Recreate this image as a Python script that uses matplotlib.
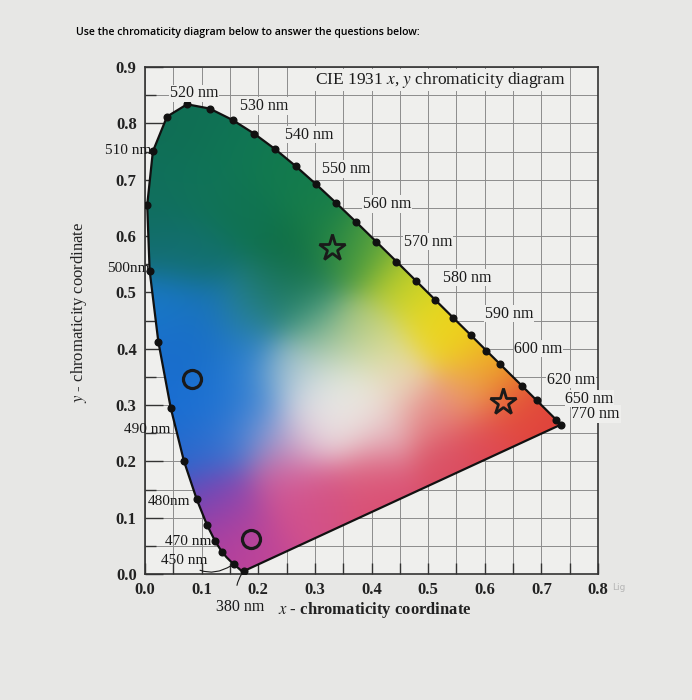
import numpy as np
import matplotlib.pyplot as plt
from matplotlib.patches import Polygon
from matplotlib.ticker import MultipleLocator

plt.rcParams['font.family'] = ['Liberation Serif', 'DejaVu Serif']
plt.rcParams['mathtext.fontset'] = 'stix'

# CIE 1931 spectral locus as drawn
locus_nm = [380, 400, 420, 430, 440, 450, 455, 460, 465, 470, 475, 480, 485, 490, 495,
            500, 505, 510, 515, 520, 525, 530, 535, 540, 545, 550, 555, 560, 565,
            570, 575, 580, 585, 590, 595, 600, 605, 610, 615, 620, 630, 640, 650, 770]
locus_x = [0.1741, 0.1733, 0.1714, 0.1689, 0.1644, 0.1566, 0.1510, 0.1440, 0.1355, 0.1241,
           0.1096, 0.0913, 0.0687, 0.0454, 0.0235, 0.0082, 0.0039, 0.0139, 0.0389, 0.0743,
           0.1142, 0.1547, 0.1929, 0.2296, 0.2658, 0.3016, 0.3373, 0.3731, 0.4087, 0.4441,
           0.4788, 0.5125, 0.5448, 0.5752, 0.6029, 0.6270, 0.6482, 0.6658, 0.6801, 0.6915,
           0.7079, 0.7190, 0.7260, 0.7347]
locus_y = [0.0050, 0.0048, 0.0051, 0.0069, 0.0109, 0.0177, 0.0227, 0.0297, 0.0399, 0.0578,
           0.0868, 0.1327, 0.2007, 0.2950, 0.4127, 0.5384, 0.6548, 0.7502, 0.8120, 0.8338,
           0.8262, 0.8059, 0.7816, 0.7543, 0.7243, 0.6923, 0.6589, 0.6245, 0.5896, 0.5547,
           0.5202, 0.4866, 0.4544, 0.4242, 0.3965, 0.3725, 0.3514, 0.3340, 0.3197, 0.3083,
           0.2920, 0.2809, 0.2740, 0.2653]
dot_nm = [380, 450, 465, 470, 475, 480, 485, 490, 495, 500, 505, 510, 515, 520, 525, 530,
          535, 540, 545, 550, 555, 560, 565, 570, 575, 580, 585, 590, 595, 600, 610, 620,
          650, 770]

# wavelength labels
lab_right = ['520 nm', '530 nm', '540 nm', '550 nm', '560 nm', '570 nm', '580 nm',
             '590 nm', '600 nm', '620 nm', '650 nm', '770 nm']
lab_right_x = [0.044, 0.168, 0.247, 0.313, 0.385, 0.457, 0.527, 0.600, 0.652, 0.710, 0.742, 0.753]
lab_right_y = [0.853, 0.831, 0.780, 0.719, 0.657, 0.590, 0.526, 0.462, 0.400, 0.345, 0.311, 0.284]
lab_left = ['510 nm', '500nm', '490 nm', '480nm', '470 nm']
lab_left_x = [0.012, 0.008, 0.044, 0.080, 0.117]
lab_left_y = [0.752, 0.543, 0.257, 0.128, 0.057]

# marked points
star_x = [0.330, 0.632]
star_y = [0.578, 0.306]
circ_x = [0.083, 0.188]
circ_y = [0.346, 0.062]

# colours (x, y, rgb)
anc_x = [0.04, 0.10, 0.16, 0.24, 0.30, 0.03, 0.10, 0.18, 0.26, 0.27, 0.33, 0.36, 0.40, 0.44,
         0.48, 0.03, 0.10, 0.03, 0.10, 0.18, 0.22, 0.05, 0.10, 0.17, 0.06, 0.12, 0.19, 0.09,
         0.15, 0.22, 0.12, 0.16, 0.14, 0.18, 0.25, 0.32, 0.42, 0.40, 0.52, 0.60, 0.66, 0.72,
         0.68, 0.63, 0.60, 0.55, 0.51, 0.57, 0.50, 0.33, 0.36, 0.29, 0.25, 0.42, 0.45, 0.42,
         0.38, 0.32, 0.29, 0.35, 0.28, 0.24, 0.02, 0.31, 0.38]
anc_y = [0.80, 0.80, 0.76, 0.72, 0.66, 0.70, 0.68, 0.64, 0.58, 0.52, 0.60, 0.56, 0.58, 0.53,
         0.50, 0.58, 0.56, 0.48, 0.47, 0.46, 0.50, 0.40, 0.40, 0.39, 0.30, 0.30, 0.31, 0.22,
         0.23, 0.25, 0.14, 0.12, 0.07, 0.06, 0.12, 0.15, 0.14, 0.19, 0.20, 0.24, 0.28, 0.27,
         0.30, 0.34, 0.38, 0.42, 0.44, 0.32, 0.28, 0.30, 0.26, 0.33, 0.36, 0.25, 0.34, 0.40,
         0.44, 0.42, 0.47, 0.37, 0.24, 0.18, 0.64, 0.27, 0.31]
anc_rgb = [(15, 110, 85), (15, 112, 84), (16, 118, 84), (18, 122, 78), (22, 125, 75),
           (16, 112, 90), (16, 115, 88), (16, 115, 82), (14, 110, 70), (20, 110, 70),
           (30, 130, 70), (60, 145, 65), (90, 165, 60), (175, 200, 45), (215, 215, 35),
           (20, 110, 115), (18, 112, 105), (25, 120, 200), (25, 115, 190), (40, 130, 150),
           (30, 120, 110), (25, 110, 205), (25, 110, 200), (40, 125, 210), (25, 110, 210),
           (30, 115, 210), (45, 125, 210), (40, 105, 205), (60, 120, 210), (130, 160, 215),
           (105, 70, 185), (150, 70, 170), (170, 60, 160), (195, 70, 150), (210, 80, 140),
           (212, 82, 130), (218, 78, 115), (220, 95, 125), (218, 78, 100), (222, 72, 85),
           (225, 68, 68), (222, 62, 60), (228, 80, 55), (235, 140, 35), (240, 185, 30),
           (238, 210, 28), (235, 215, 30), (235, 160, 120), (228, 130, 130), (235, 236, 232),
           (234, 224, 222), (205, 218, 228), (150, 185, 200), (230, 195, 200), (235, 215, 190),
           (220, 222, 150), (175, 200, 120), (140, 185, 150), (60, 150, 130), (215, 225, 200),
           (220, 170, 200), (210, 100, 160), (16, 110, 95), (236, 232, 230), (236, 234, 225)]

fig = plt.figure(figsize=(6.92, 7.0), dpi=100, facecolor='#e7e7e5')
fig.text(0.110, 0.953, 'Use the chromaticity diagram below to answer the questions below:',
         family=['Open Sans', 'DejaVu Sans'], weight='semibold', fontsize=7.6, va='center')

ax = fig.add_axes([145/692, 1-574/700, 453/692, 507/700])
ax.set_facecolor('#efefed')
ax.set_xlim(0, 0.8)
ax.set_ylim(0, 0.9)
ax.xaxis.set_major_locator(MultipleLocator(0.1))
ax.yaxis.set_major_locator(MultipleLocator(0.1))
ax.xaxis.set_minor_locator(MultipleLocator(0.05))
ax.yaxis.set_minor_locator(MultipleLocator(0.05))
ax.grid(True, which='both', color='#8c8c8c', lw=0.7)
ax.set_axisbelow(True)
ax.tick_params(which='both', direction='in', length=8, width=1, color='#333333')
ax.tick_params(axis='y', which='major', length=13)
ax.tick_params(axis='x', pad=6, labelsize=12)
ax.tick_params(axis='y', pad=6, labelsize=12)
for lab in ax.get_xticklabels() + ax.get_yticklabels():
    lab.set_fontweight('bold')
    lab.set_color('#222222')
for s in ax.spines.values():
    s.set_color('#333333')
    s.set_linewidth(1.2)

# coloured fill clipped to the horseshoe
gx, gy = np.meshgrid(np.linspace(0, 0.8, 400), np.linspace(0, 0.9, 450))
ax_, ay_ = np.array(anc_x), np.array(anc_y)
cols = np.array(anc_rgb) / 255.0
w = np.exp(-((gx[..., None] - ax_)**2 + (gy[..., None] - ay_)**2) / (2 * 0.042**2)) + 1e-12
img = (w @ cols) / w.sum(-1, keepdims=True)
im = ax.imshow(np.clip(img, 0, 1), origin='lower', extent=[0, 0.8, 0, 0.9],
               aspect='auto', interpolation='bilinear', zorder=2)
shape = Polygon(np.column_stack([locus_x, locus_y]), closed=True, transform=ax.transData)
im.set_clip_path(shape)

lx = locus_x + [locus_x[0]]
ly = locus_y + [locus_y[0]]
ax.plot(lx, ly, color='#111111', lw=1.6, zorder=3)
dx = [locus_x[locus_nm.index(n)] for n in dot_nm]
dy = [locus_y[locus_nm.index(n)] for n in dot_nm]
ax.plot(dx, dy, 'o', color='#111111', ms=4.8, zorder=4)

ax.plot(star_x, star_y, '*', ms=20, mfc='none', mec='#1a1a1a', mew=2.0, zorder=5)
ax.plot(circ_x, circ_y, 'o', ms=13, mfc='none', mec='#1a1a1a', mew=2.3, zorder=5)

box = dict(facecolor='#efefed', edgecolor='none', pad=0.5)
for t, x, y in zip(lab_right, lab_right_x, lab_right_y):
    ax.text(x, y, t, fontsize=11.5, ha='left', va='center', color='#1a1a1a', bbox=box, zorder=6)
for t, x, y in zip(lab_left, lab_left_x, lab_left_y):
    ax.text(x, y, t, fontsize=11, ha='right', va='center', color='#1a1a1a', zorder=6,
            clip_on=False)
ax.annotate('450 nm', xy=(locus_x[5], locus_y[5]), xytext=(0.111, 0.024), ha='right',
            va='center', fontsize=11, color='#1a1a1a', zorder=6,
            arrowprops=dict(arrowstyle='-', connectionstyle='arc3,rad=0.4', lw=0.8,
                            color='#1a1a1a', shrinkA=1, shrinkB=2))
ax.annotate('380 nm', xy=(locus_x[0], locus_y[0]), xytext=(0.168, -0.059), ha='center',
            va='center', fontsize=11.5, color='#1a1a1a', annotation_clip=False,
            arrowprops=dict(arrowstyle='-', connectionstyle='arc3,rad=-0.3', lw=0.8,
                            color='#1a1a1a', shrinkA=8, shrinkB=2))

ax.text(0.521, 0.877, 'CIE 1931 $x$, $y$ chromaticity diagram', fontsize=12.5, ha='center',
        va='center', color='#1a1a1a', bbox=dict(facecolor='#efefed', edgecolor='none', pad=1),
        zorder=6)

fig.text(0.542, 0.129, '$x$ - chromaticity coordinate', fontsize=12, weight='bold',
         ha='center', va='center', color='#222222')
fig.text(0.114, 0.554, '$y$ - chromaticity coordinate', fontsize=12, rotation=90,
         ha='center', va='center', color='#222222')
fig.text(0.884, 0.157, 'Lig', fontsize=6.5, color='#b5b5b5', family=['DejaVu Sans'])

fig.savefig('out.png', dpi=100, facecolor=fig.get_facecolor())
